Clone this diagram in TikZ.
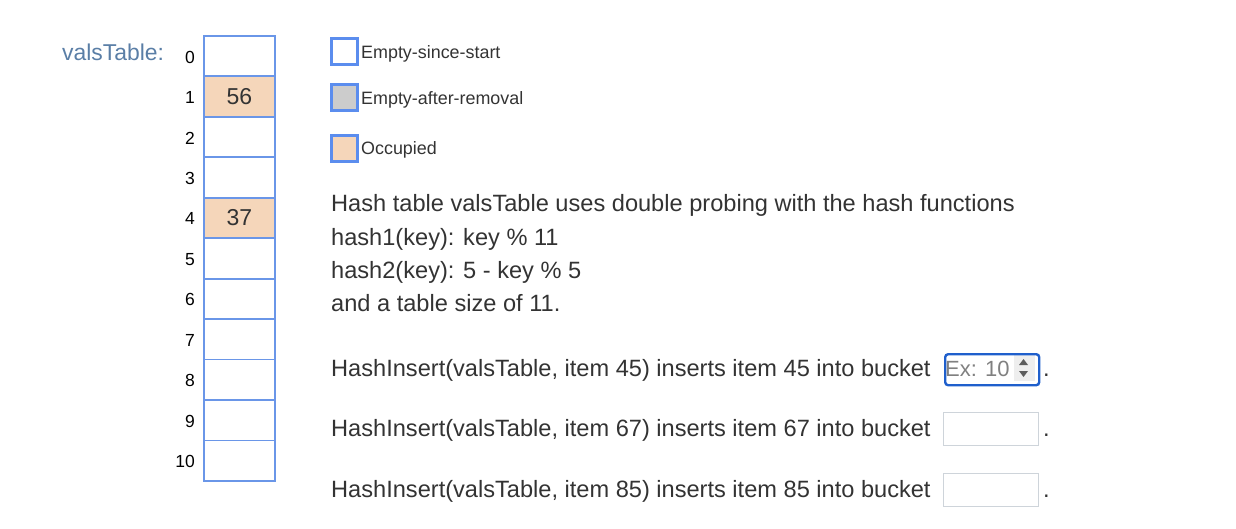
\documentclass[tikz,border=0pt]{standalone}
\usepackage{fontspec}
\setmainfont{Liberation Sans}
\definecolor{cellblue}{HTML}{6A96E8}
\definecolor{legblue}{HTML}{5B8DEE}
\definecolor{occ}{HTML}{F5D6BA}
\definecolor{remgray}{HTML}{CCCCCC}
\definecolor{txt}{HTML}{333333}
\definecolor{lbl}{HTML}{5A7EA6}
\definecolor{focus}{HTML}{1F5FCC}
\definecolor{inborder}{HTML}{CED4DA}
\definecolor{spin}{HTML}{EEEEEE}
\tikzset{
  cell/.style={draw=cellblue,line width=1.8pt,minimum width=71pt,minimum height=40.45pt,inner sep=0pt,anchor=north west,text=txt,font=\fontsize{23}{23}\selectfont},
  idx/.style={anchor=east,text=black,font=\fontsize{17.5}{17.5}\selectfont,inner sep=0pt},
  legbox/.style={draw=legblue,line width=2.6pt,minimum width=26pt,minimum height=26pt,inner sep=0pt,anchor=north west},
  legtxt/.style={anchor=base west,text=txt,font=\fontsize{17.9}{17.9}\selectfont,inner sep=0pt},
  body/.style={anchor=base west,text=txt,font=\fontsize{23.6}{23.6}\selectfont,inner sep=0pt},
  inbox/.style={draw=inborder,line width=1pt,minimum width=95pt,minimum height=33pt,inner sep=0pt,anchor=north west}
}
\begin{document}
\begin{tikzpicture}[x=1pt,y=-1pt]
\useasboundingbox (0,0) rectangle (1236,528);
\node[anchor=base west,text=lbl,font=\fontsize{22.9}{22.9}\selectfont,inner sep=0pt] (title) at (62,60) {valsTable:};
% table cells
\foreach \i/\v/\f in {0//white,1/56/occ,2//white,3//white,4/37/occ,5//white,6//white,7//white,8//white,9//white,10//white}{
  \node[cell,fill=\f] (c\i) at (203,{35+\i*40.45}) {\v};
  \node[idx] (i\i) at ([xshift=-8pt,yshift=-1pt]c\i.west) {\i};
}
% legend
\node[legbox,fill=white] (l1) at (330,37) {};
\node[legtxt] (t1) at (361,58) {Empty-since-start};
\node[legbox,fill=remgray] (l2) at (330,83) {};
\node[legtxt] (t2) at (361,104) {Empty-after-removal};
\node[legbox,fill=occ] (l3) at (330,134) {};
\node[legtxt] (t3) at (361,154) {Occupied};
% description
\node[body] (d1) at (331,211) {Hash table valsTable uses double probing with the hash functions};
\node[body] (d2) at (331,245) {hash1(key): key \% 11};
\node[body] (d3) at (331,278) {hash2(key): 5 - key \% 5};
\node[body] (d4) at (331,311) {and a table size of 11.};
% questions
\node[body] (q1) at (331,376) {HashInsert(valsTable, item 45) inserts item 45 into bucket};
\node[body] (q2) at (331,436) {HashInsert(valsTable, item 67) inserts item 67 into bucket};
\node[body] (q3) at (331,497) {HashInsert(valsTable, item 85) inserts item 85 into bucket};
% input 1 (focused)
\fill[spin] (1014,355) rectangle (1035,381);
\node[draw=focus,line width=2.4pt,rounded corners=3pt,minimum width=94pt,minimum height=31pt,inner sep=0pt,anchor=north west] (b1) at (944,353) {};
\node[anchor=base west,text=gray,font=\fontsize{22}{22}\selectfont,inner sep=0pt] (ex) at (945,376) {Ex: 10};
\fill[txt!80] (1019,365) -- (1028,365) -- (1023.5,359) -- cycle;
\fill[txt!80] (1019,371) -- (1028,371) -- (1023.5,377) -- cycle;
\node[body] (p1) at (1043,376) {.};
% inputs 2,3
\node[inbox] (b2) at (943,412) {};
\node[body] (p2) at (1043,436) {.};
\node[inbox] (b3) at (943,473) {};
\node[body] (p3) at (1043,497) {.};
\end{tikzpicture}
\end{document}
